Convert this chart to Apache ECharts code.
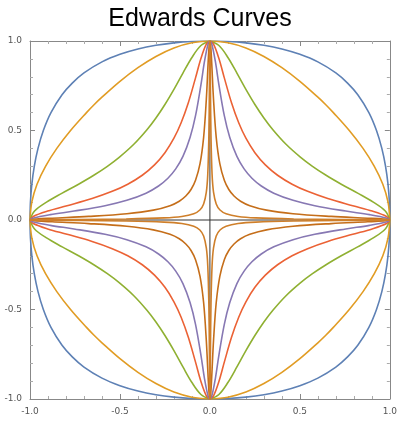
<!DOCTYPE html>
<html>
<head>
<meta charset="utf-8">
<script src="https://cdn.jsdelivr.net/npm/echarts@6/dist/echarts.min.js"></script>
<style>html,body{margin:0;background:#fff}#c{width:400px;height:425px}</style>
</head>
<body>
<div id="c"></div>
<script>
// first-octant points of each curve (from (0,1) to the diagonal)
var blueX = [0, 0.1, 0.2, 0.3, 0.4, 0.5, 0.6, 0.7, 0.765];
var blueY = [1, 0.9975, 0.9897, 0.9762, 0.9555, 0.9258, 0.8835, 0.8219, 0.765];
var orangeX = [0, 0.1, 0.2, 0.3, 0.4, 0.5, 0.6, 0.644];
var orangeY = [1, 0.990, 0.961, 0.9137, 0.851, 0.7746, 0.686, 0.644];
var greenX = [0, 0.05, 0.1, 0.15, 0.2, 0.25, 0.3, 0.35, 0.423];
var greenY = [1, 0.9747, 0.908, 0.821, 0.730, 0.6455, 0.570, 0.5043, 0.423];
var redX = [0, 0.02, 0.05, 0.08, 0.12, 0.16, 0.2, 0.25, 0.308];
var redY = [1, 0.982, 0.902, 0.794, 0.655, 0.543, 0.4568, 0.376, 0.308];
var purpleX = [0, 0.01, 0.03, 0.05, 0.08, 0.11, 0.15, 0.19, 0.2335];
var purpleY = [1, 0.985, 0.887, 0.755, 0.583, 0.462, 0.355, 0.2855, 0.2335];
var brownX = [0, 0.005, 0.01, 0.02, 0.035, 0.055, 0.08, 0.105, 0.134];
var brownY = [1, 0.9645, 0.877, 0.674, 0.462, 0.3146, 0.2218, 0.1703, 0.134];
var innerX = [0, 0.001, 0.003, 0.006, 0.012, 0.02, 0.035, 0.056];
var innerY = [1, 0.9535, 0.7255, 0.466, 0.2548, 0.1561, 0.0899, 0.056];

var curves = [
  [blueX, blueY, '#5E81B5'],
  [orangeX, orangeY, '#E19C24'],
  [greenX, greenY, '#8FB032'],
  [redX, redY, '#EB6235'],
  [purpleX, purpleY, '#8778B3'],
  [brownX, brownY, '#C56E1A'],
  [innerX, innerY, '#CF7F2A']
];
var tickVals = [-1, -0.5, 0, 0.5, 1];

function quadrant(xs, ys, sx, sy, rev) {
  // one quadrant from (0,1) to (1,0), using the x<->y symmetry
  var q = [];
  for (var i = 0; i < xs.length; i++) q.push([sx * xs[i], sy * ys[i]]);
  for (var j = xs.length - 2; j >= 0; j--) q.push([sx * ys[j], sy * xs[j]]);
  return rev ? q.reverse() : q;
}

var series = [{
  type: 'line', data: [[-1, 0], [1, 0]], symbol: 'none', silent: true,
  lineStyle: { color: '#333', width: 1 }
}, {
  type: 'line', data: [[0, -1], [0, 1]], symbol: 'none', silent: true,
  lineStyle: { color: '#333', width: 1 }
}];
// each quadrant its own smoothed piece so the cusps stay sharp
curves.forEach(function (c) {
  [[1, 1], [1, -1], [-1, -1], [-1, 1]].forEach(function (s) {
    series.push({
      type: 'line', data: quadrant(c[0], c[1], s[0], s[1], false), symbol: 'none',
      smooth: 0.35, lineStyle: { color: c[2], width: 1.6 }
    });
  });
});

function ax(pos, show) {
  return {
    type: 'value', position: pos, min: -1, max: 1, interval: 0.5,
    axisLine: { show: true, onZero: false, lineStyle: { color: '#888' } },
    axisTick: { show: true, inside: true, length: 5, lineStyle: { color: '#888' } },
    minorTick: { show: true, splitNumber: 5, length: 3, lineStyle: { color: '#aaa' } },
    splitLine: { show: false },
    axisLabel: {
      show: show, color: '#555', fontSize: 9, fontFamily: 'DejaVu Sans',
      formatter: function (v) { return tickVals.indexOf(v) >= 0 ? v.toFixed(1) : ''; }
    }
  };
}

var chart = echarts.init(document.getElementById('c'));
chart.setOption({
  animation: false,
  title: {
    text: 'Edwards Curves', left: 'center', top: 2,
    textStyle: { fontSize: 25, fontWeight: 'normal', color: '#000', fontFamily: 'Liberation Sans' }
  },
  grid: { left: 30, right: 9, top: 41, bottom: 26 },
  xAxis: [ax('bottom', true), ax('top', false)],
  yAxis: [ax('left', true), ax('right', false)],
  series: series
});
</script>
</body>
</html>
